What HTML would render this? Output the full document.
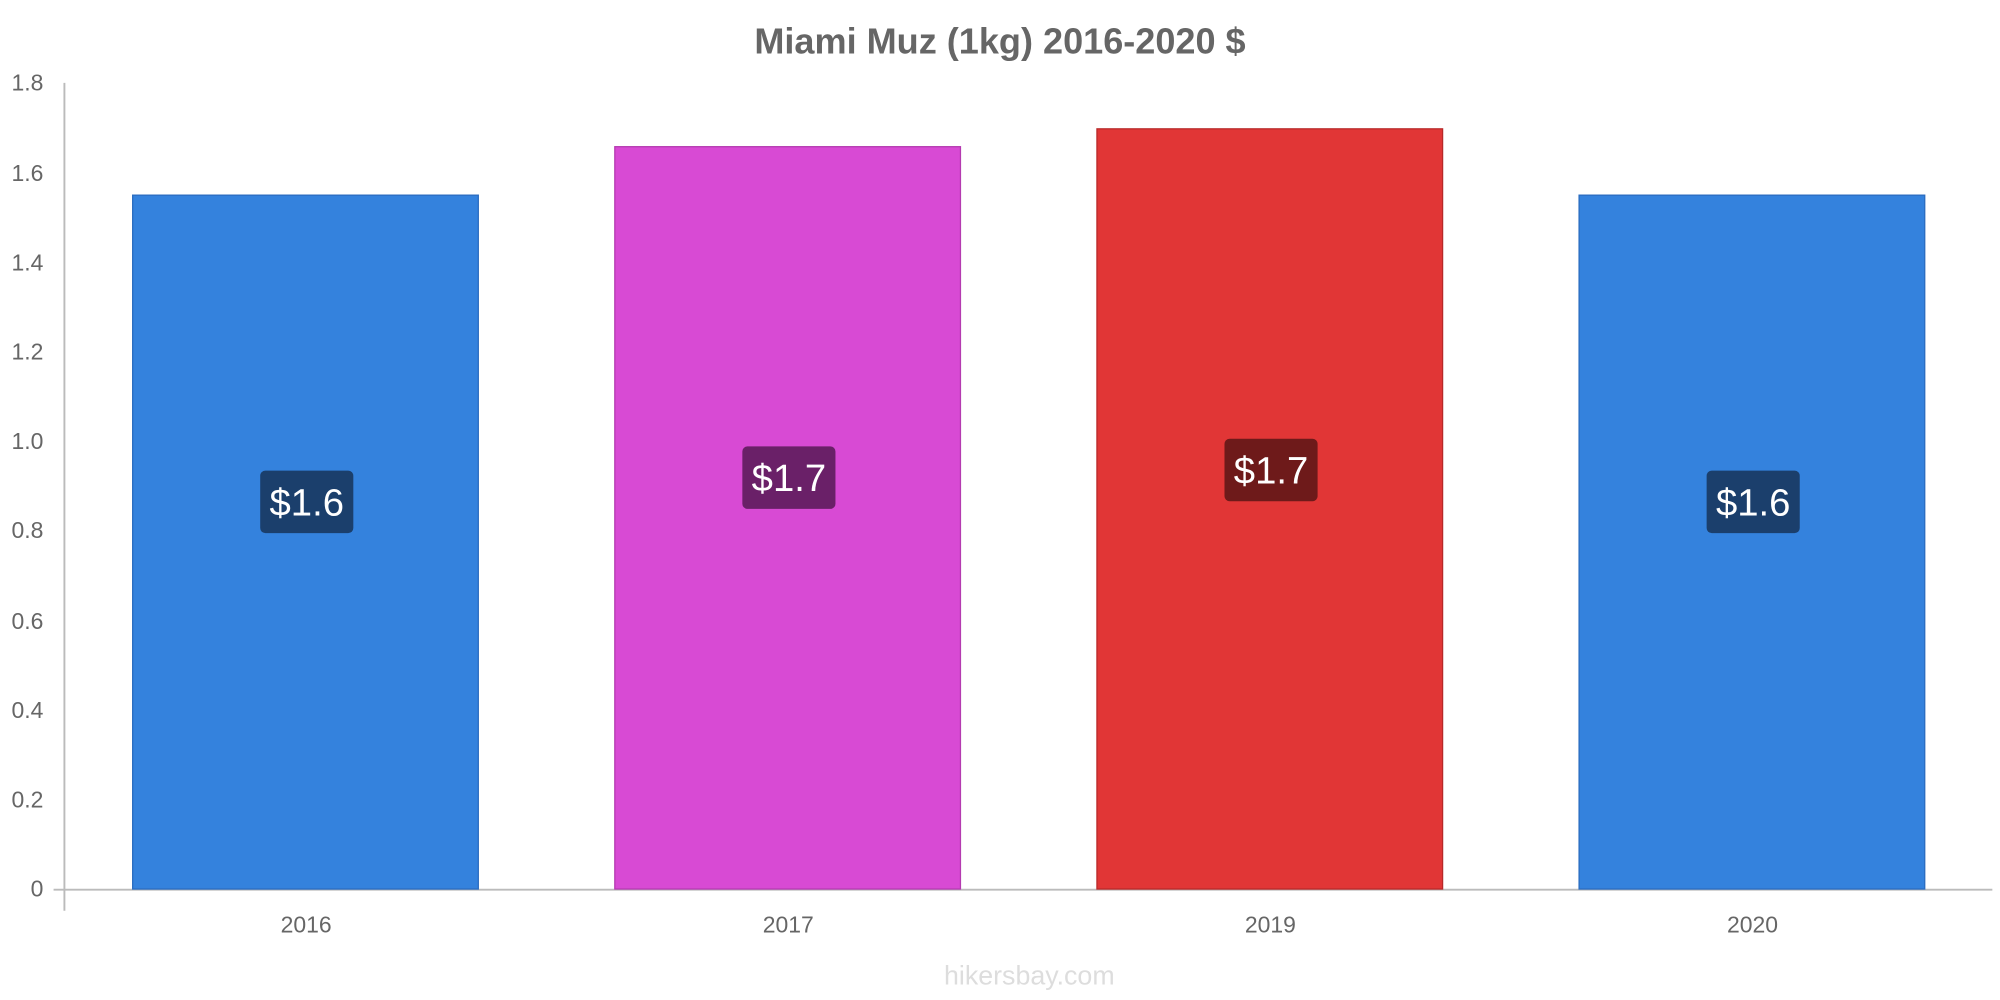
<!DOCTYPE html>
<html><head><style>html,body{margin:0;padding:0;background:#fff;}svg{display:block}</style></head>
<body>
<svg width="2000" height="1000" viewBox="0 0 1568 784" preserveAspectRatio="none" xmlns="http://www.w3.org/2000/svg" font-family="Liberation Sans, Arial, sans-serif">
<text x="784" y="42" text-anchor="middle" font-size="28.3" font-weight="bold" fill="#666">Miami Muz (1kg) 2016-2020 $</text>
<g font-size="18" fill="#666" text-anchor="end">
<text x="34" y="71">1.8</text><text x="34" y="142">1.6</text><text x="34" y="212">1.4</text><text x="34" y="282">1.2</text><text x="34" y="352">1.0</text><text x="34" y="422">0.8</text><text x="34" y="493">0.6</text><text x="34" y="563">0.4</text><text x="34" y="633">0.2</text><text x="34" y="703">0</text>
</g>
<line x1="50.5" y1="65" x2="50.5" y2="714" stroke="#bbb" stroke-width="1.5"/>
<line x1="42" y1="697.5" x2="1562" y2="697.5" stroke="#bbb" stroke-width="1.5"/>
<rect x="104" y="153" width="271" height="544" fill="#3482dd" stroke="#2a6cbf"/>
<rect x="482" y="115" width="271" height="582" fill="#d84ad4" stroke="#b43ab0"/>
<rect x="860" y="101" width="271" height="596" fill="#e13636" stroke="#b82828"/>
<rect x="1238" y="153" width="271" height="544" fill="#3482dd" stroke="#2a6cbf"/>
<g font-size="30" fill="#fff" text-anchor="middle">
<rect x="204" y="369" width="73" height="49" rx="4" fill="#1b3f6c"/><text x="240.5" y="404">$1.6</text>
<rect x="582" y="350" width="73" height="49" rx="4" fill="#6a2068"/><text x="618.5" y="385">$1.7</text>
<rect x="960" y="344" width="73" height="49" rx="4" fill="#6e1a1a"/><text x="996.5" y="379">$1.7</text>
<rect x="1338" y="369" width="73" height="49" rx="4" fill="#1b3f6c"/><text x="1374.5" y="404">$1.6</text>
</g>
<g font-size="18" fill="#666" text-anchor="middle">
<text x="240" y="731">2016</text><text x="618" y="731">2017</text><text x="996" y="731">2019</text><text x="1374" y="731">2020</text>
</g>
<text x="807" y="772" text-anchor="middle" font-size="21" fill="#ddd">hikersbay.com</text>
</svg>
</body></html>
